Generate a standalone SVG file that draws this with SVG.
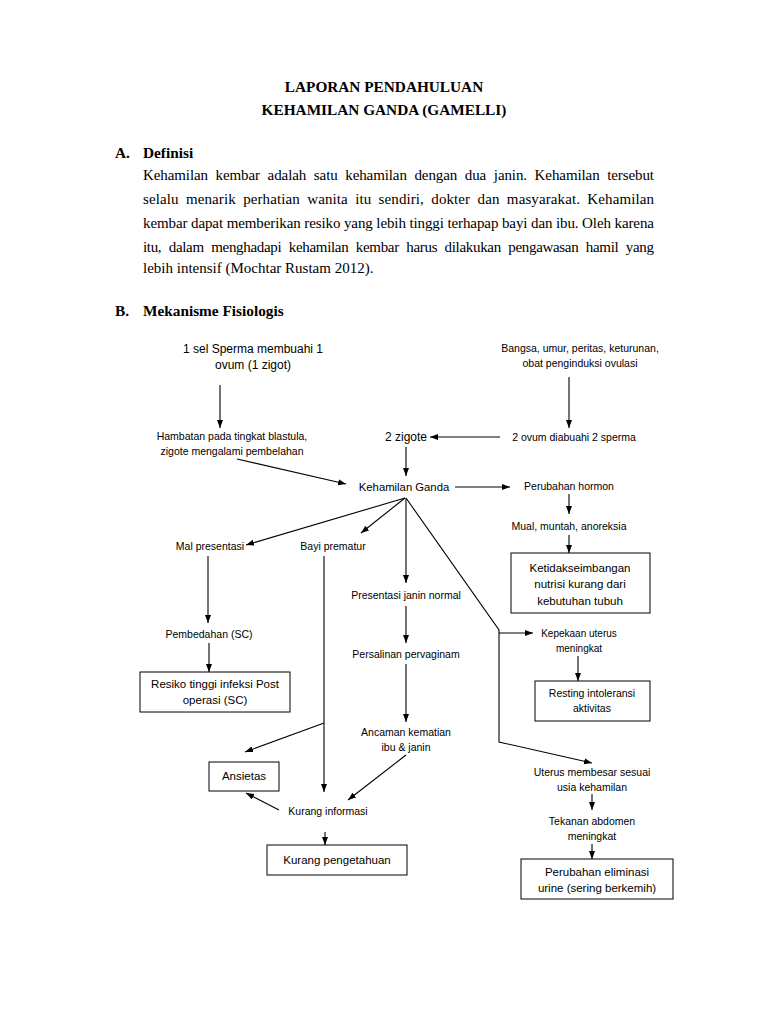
<svg xmlns="http://www.w3.org/2000/svg" width="768" height="1024" viewBox="0 0 768 1024">
<style>
.t{font-family:"Liberation Serif","Times New Roman",serif;fill:#000}
.h{font-weight:bold;font-size:15.3px}
.b{font-size:15px}
.s{font-family:"Liberation Sans",Arial,sans-serif;font-size:10.5px;fill:#000;text-anchor:middle}
.l{font-size:12px}
.m{font-family:"Liberation Sans",Arial,sans-serif;font-size:11.5px;fill:#000;text-anchor:middle}
.box{fill:#fff;stroke:#000;stroke-width:1}
.c line,.c polyline{stroke:#000;stroke-width:1.1;fill:none}
</style>
<defs>
<marker id="ah" markerUnits="userSpaceOnUse" markerWidth="9" markerHeight="7" refX="8" refY="3" orient="auto">
<path d="M0,0 L8,3 L0,6 z" fill="#000"/>
</marker>
</defs>
<rect width="768" height="1024" fill="#fff"/>
<g id="header">
<text class="t h" x="384" y="92" text-anchor="middle">LAPORAN PENDAHULUAN</text>
<text class="t h" x="384" y="115" text-anchor="middle">KEHAMILAN GANDA (GAMELLI)</text>
<text class="t h" x="115" y="158">A.</text>
<text class="t h" x="143" y="158">Definisi</text>
<text class="t b" x="143" y="180" word-spacing="4" textLength="511" lengthAdjust="spacing">Kehamilan kembar adalah satu kehamilan dengan dua janin. Kehamilan tersebut</text>
<text class="t b" x="143" y="204" word-spacing="3.5" textLength="511" lengthAdjust="spacing">selalu menarik perhatian wanita itu sendiri, dokter dan masyarakat. Kehamilan</text>
<text class="t b" x="143" y="228" textLength="511" lengthAdjust="spacing">kembar dapat memberikan resiko yang lebih tinggi terhapap bayi dan ibu. Oleh karena</text>
<text class="t b" x="143" y="252" word-spacing="4" textLength="511" lengthAdjust="spacing">itu, dalam menghadapi kehamilan kembar harus dilakukan pengawasan hamil yang</text>
<text class="t b" x="143" y="272.5">lebih intensif (Mochtar Rustam 2012).</text>
<text class="t h" x="115" y="316">B.</text>
<text class="t h" x="143" y="316">Mekanisme Fisiologis</text>
</g>
<g class="c" id="connectors">
<line x1="220" y1="385" x2="220" y2="428" marker-end="url(#ah)"/>
<line x1="569" y1="377" x2="569" y2="428" marker-end="url(#ah)"/>
<line x1="500" y1="437" x2="430" y2="437" marker-end="url(#ah)"/>
<line x1="406" y1="447" x2="406" y2="476" marker-end="url(#ah)"/>
<line x1="237" y1="459" x2="346" y2="484" marker-end="url(#ah)"/>
<line x1="455" y1="487" x2="510" y2="487" marker-end="url(#ah)"/>
<line x1="569" y1="494" x2="569" y2="514" marker-end="url(#ah)"/>
<line x1="569" y1="535" x2="569" y2="553" marker-end="url(#ah)"/>
<line x1="405" y1="498" x2="246" y2="545" marker-end="url(#ah)"/>
<line x1="405" y1="498" x2="361" y2="533" marker-end="url(#ah)"/>
<line x1="406" y1="498" x2="406" y2="583" marker-end="url(#ah)"/>
<polyline points="406,498 499,630 499,742 592,763" marker-end="url(#ah)"/>
<line x1="499" y1="633" x2="533" y2="633" marker-end="url(#ah)"/>
<line x1="578" y1="656" x2="578" y2="681" marker-end="url(#ah)"/>
<line x1="592" y1="794" x2="592" y2="810" marker-end="url(#ah)"/>
<line x1="592" y1="844" x2="592" y2="859" marker-end="url(#ah)"/>
<line x1="208" y1="556" x2="208" y2="623" marker-end="url(#ah)"/>
<line x1="209" y1="643" x2="209" y2="672" marker-end="url(#ah)"/>
<line x1="324" y1="556" x2="324" y2="792" marker-end="url(#ah)"/>
<line x1="324" y1="723" x2="245" y2="752" marker-end="url(#ah)"/>
<line x1="406" y1="606" x2="406" y2="643" marker-end="url(#ah)"/>
<line x1="406" y1="664" x2="406" y2="722" marker-end="url(#ah)"/>
<line x1="406" y1="755" x2="348" y2="800" marker-end="url(#ah)"/>
<line x1="279" y1="810" x2="246" y2="793" marker-end="url(#ah)"/>
<line x1="325" y1="832" x2="325" y2="845" marker-end="url(#ah)"/>
</g>
<g id="n-sperma"><text class="s l" x="253" y="353">1 sel Sperma membuahi 1</text><text class="s l" x="253" y="369">ovum (1 zigot)</text></g>
<g id="n-bangsa"><text class="s" x="580" y="352">Bangsa, umur, peritas, keturunan,</text><text class="s" x="580" y="367">obat penginduksi ovulasi</text></g>
<g id="n-hambatan"><text class="s" x="232" y="440">Hambatan pada tingkat blastula,</text><text class="s" x="232" y="455">zigote mengalami pembelahan</text></g>
<g id="n-2zigote"><text class="s l" x="406" y="441">2 zigote</text></g>
<g id="n-2ovum"><text class="s" x="574" y="441">2 ovum diabuahi 2 sperma</text></g>
<g id="n-kehamilan"><text class="s" x="404" y="491" style="font-size:11.3px">Kehamilan Ganda</text></g>
<g id="n-hormon"><text class="s" x="569" y="490">Perubahan hormon</text></g>
<g id="n-mual"><text class="s" x="569" y="530">Mual, muntah, anoreksia</text></g>
<g id="n-nutrisi"><rect class="box" x="511" y="553" width="139" height="60"/><text class="m" x="580" y="572">Ketidakseimbangan</text><text class="m" x="580" y="588">nutrisi kurang dari</text><text class="m" x="580" y="605">kebutuhan tubuh</text></g>
<g id="n-mal"><text class="s" x="210" y="550">Mal presentasi</text></g>
<g id="n-bayi"><text class="s" x="333" y="550">Bayi prematur</text></g>
<g id="n-presentasi"><text class="s" x="406" y="599">Presentasi janin normal</text></g>
<g id="n-kepekaan"><text class="s" x="579" y="637" style="font-size:10px">Kepekaan uterus</text><text class="s" x="579" y="652" style="font-size:10px">meningkat</text></g>
<g id="n-pembedahan"><text class="s" x="209" y="638">Pembedahan (SC)</text></g>
<g id="n-persalinan"><text class="s" x="406" y="658">Persalinan pervaginam</text></g>
<g id="n-resiko"><rect class="box" x="140" y="672" width="150" height="40"/><text class="m" x="215" y="688">Resiko tinggi infeksi Post</text><text class="m" x="215" y="704">operasi (SC)</text></g>
<g id="n-resting"><rect class="box" x="535" y="681" width="115" height="40"/><text class="s" x="592" y="697">Resting intoleransi</text><text class="s" x="592" y="712">aktivitas</text></g>
<g id="n-ancaman"><text class="s" x="406" y="736">Ancaman kematian</text><text class="s" x="406" y="751">ibu &amp; janin</text></g>
<g id="n-ansietas"><rect class="box" x="209" y="762" width="70" height="29"/><text class="m" x="244" y="780">Ansietas</text></g>
<g id="n-uterus"><text class="s" x="592" y="776">Uterus membesar sesuai</text><text class="s" x="592" y="791">usia kehamilan</text></g>
<g id="n-kurang-info"><text class="s" x="328" y="815">Kurang informasi</text></g>
<g id="n-tekanan"><text class="s" x="592" y="825">Tekanan abdomen</text><text class="s" x="592" y="840">meningkat</text></g>
<g id="n-pengetahuan"><rect class="box" x="267" y="845" width="140" height="30"/><text class="m" x="337" y="864">Kurang pengetahuan</text></g>
<g id="n-eliminasi"><rect class="box" x="521" y="859" width="152" height="40"/><text class="m" x="597" y="876">Perubahan eliminasi</text><text class="m" x="597" y="892">urine (sering berkemih)</text></g>
</svg>
